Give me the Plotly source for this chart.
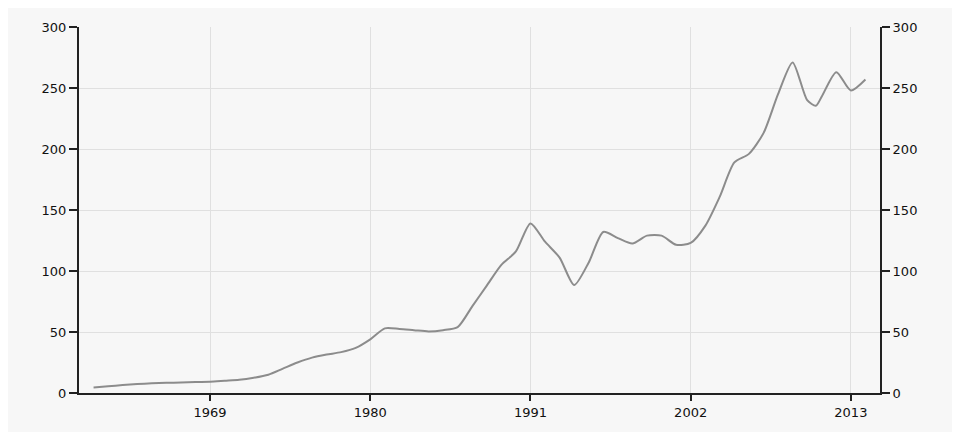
import plotly.graph_objects as go

years = [1961, 1962, 1963, 1964, 1965, 1966, 1967, 1968, 1969, 1970,
         1971, 1972, 1973, 1974, 1975, 1976, 1977, 1978, 1979, 1980,
         1981, 1982, 1983, 1984, 1985, 1986, 1987, 1988, 1989, 1990,
         1991, 1992, 1993, 1994, 1995, 1996, 1997, 1998, 1999, 2000,
         2001, 2002, 2003, 2004, 2005, 2006, 2007, 2008, 2009, 2010,
         2010.6, 2011, 2012, 2013, 2014]
values = [4.5, 5.5, 6.5, 7.3, 7.9, 8.3, 8.6, 9, 9.2, 10,
          10.8, 12.5, 15, 20, 25, 29, 31.5, 33.5, 37, 44,
          53, 52.5, 51.5, 50.5, 51.5, 54, 71, 88, 105, 116,
          139, 124, 111, 88.5, 107, 132, 127, 122.5, 129, 129,
          121.5, 123, 137, 161, 189, 196, 213, 245, 271, 240,
          235.5, 243, 263, 248, 257]

x_ticks = [1969, 1980, 1991, 2002, 2013]
y_ticks = [0, 50, 100, 150, 200, 250, 300]

fig = go.Figure()
fig.add_trace(go.Scatter(x=years, y=values, mode="lines",
                         line=dict(color="#8c8c8c", width=2, shape="spline", smoothing=0.7),
                         hoverinfo="skip", showlegend=False))
fig.add_trace(go.Scatter(x=years, y=values, mode="lines", yaxis="y2",
                         line=dict(color="rgba(0,0,0,0)", width=0),
                         hoverinfo="skip", showlegend=False))

axis_font = dict(family="DejaVu Sans", size=13, color="#111111")
fig.update_layout(
    width=944, height=424,
    margin=dict(l=71, r=72, t=17, b=39),
    paper_bgcolor="#f7f7f7", plot_bgcolor="#f7f7f7",
    xaxis=dict(range=[1960, 2015], tickvals=x_ticks, ticktext=[str(t) for t in x_ticks],
               showgrid=True, gridcolor="#e0e0e0", gridwidth=1,
               showline=True, linecolor="#222", linewidth=2,
               ticks="outside", ticklen=6, tickcolor="#222", tickwidth=2,
               tickfont=axis_font, zeroline=False),
    yaxis=dict(range=[0, 300], tickvals=y_ticks,
               showgrid=True, gridcolor="#e0e0e0", gridwidth=1,
               showline=True, linecolor="#222", linewidth=2,
               ticks="outside", ticklen=8, tickcolor="#222", tickwidth=2,
               tickfont=axis_font, zeroline=False),
    yaxis2=dict(range=[0, 300], tickvals=y_ticks, overlaying="y", side="right",
                showgrid=False, showline=True, linecolor="#222", linewidth=2,
                ticks="outside", ticklen=8, tickcolor="#222", tickwidth=2,
                tickfont=axis_font, zeroline=False),
)

fig.write_html("out.html")
